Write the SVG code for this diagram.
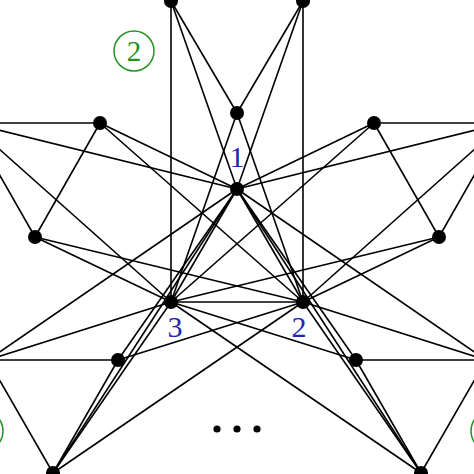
<svg xmlns="http://www.w3.org/2000/svg" width="474" height="474" viewBox="0 0 474 474">
<style>
.e{stroke:#000;stroke-width:1.6;fill:none}
.n{fill:#000}
.lb{font-family:"Liberation Serif","DejaVu Serif",serif;font-size:30px;fill:#2424b4;text-anchor:middle}
.gc{fill:none;stroke:#239423;stroke-width:1.5}
.gt{font-family:"Liberation Serif","DejaVu Serif",serif;font-size:29px;fill:#239423;text-anchor:middle}
.d{fill:#000}
</style>
<rect width="474" height="474" fill="#fff"/>
<g id="connectors" class="e">
<line x1="171" y1="1" x2="171" y2="302"/>
<line x1="171" y1="1" x2="237" y2="113"/>
<line x1="171" y1="1" x2="237" y2="189"/>
<line x1="237" y1="113" x2="171" y2="302"/>
<line x1="100" y1="123" x2="237" y2="189"/>
<line x1="100" y1="123" x2="35" y2="237"/>
<line x1="100" y1="123" x2="303" y2="302"/>
<line x1="100" y1="123" x2="-30" y2="123"/>
<line x1="-30" y1="123" x2="237" y2="189"/>
<line x1="-30" y1="123" x2="171" y2="302"/>
<line x1="-30" y1="123" x2="35" y2="237"/>
<line x1="35" y1="237" x2="171" y2="302"/>
<line x1="35" y1="237" x2="303" y2="302"/>
<line x1="171" y1="302" x2="303" y2="302"/>
<line x1="237" y1="189" x2="171" y2="302"/>
<line x1="-12" y1="360" x2="171" y2="302"/>
<line x1="-12" y1="360" x2="237" y2="189"/>
<line x1="-12" y1="360" x2="118" y2="360"/>
<line x1="-12" y1="360" x2="53" y2="473"/>
<line x1="118" y1="360" x2="237" y2="189"/>
<line x1="118" y1="360" x2="303" y2="302"/>
<line x1="118" y1="360" x2="53" y2="473"/>
<line x1="53" y1="473" x2="237" y2="189"/>
<line x1="53" y1="473" x2="171" y2="302"/>
<line x1="53" y1="473" x2="303" y2="302"/>
<line x1="303" y1="1" x2="303" y2="302"/>
<line x1="303" y1="1" x2="237" y2="113"/>
<line x1="303" y1="1" x2="237" y2="189"/>
<line x1="237" y1="113" x2="303" y2="302"/>
<line x1="374" y1="123" x2="237" y2="189"/>
<line x1="374" y1="123" x2="439" y2="237"/>
<line x1="374" y1="123" x2="171" y2="302"/>
<line x1="374" y1="123" x2="504" y2="123"/>
<line x1="504" y1="123" x2="237" y2="189"/>
<line x1="504" y1="123" x2="303" y2="302"/>
<line x1="504" y1="123" x2="439" y2="237"/>
<line x1="439" y1="237" x2="303" y2="302"/>
<line x1="439" y1="237" x2="171" y2="302"/>
<line x1="237" y1="189" x2="303" y2="302"/>
<line x1="486" y1="360" x2="303" y2="302"/>
<line x1="486" y1="360" x2="237" y2="189"/>
<line x1="486" y1="360" x2="356" y2="360"/>
<line x1="486" y1="360" x2="421" y2="473"/>
<line x1="356" y1="360" x2="237" y2="189"/>
<line x1="356" y1="360" x2="171" y2="302"/>
<line x1="356" y1="360" x2="421" y2="473"/>
<line x1="421" y1="473" x2="237" y2="189"/>
<line x1="421" y1="473" x2="303" y2="302"/>
<line x1="421" y1="473" x2="171" y2="302"/>
</g>
<g id="nA"><circle class="n" cx="171" cy="1" r="7"/></g>
<g id="nB"><circle class="n" cx="303" cy="1" r="7"/></g>
<g id="nC"><circle class="n" cx="237" cy="113" r="7"/></g>
<g id="n1"><circle class="n" cx="237" cy="189" r="7"/><text class="lb" x="237" y="167">1</text></g>
<g id="nE"><circle class="n" cx="100" cy="123" r="7"/></g>
<g id="nF"><circle class="n" cx="374" cy="123" r="7"/></g>
<g id="nG"><circle class="n" cx="35" cy="237" r="7"/></g>
<g id="nH"><circle class="n" cx="439" cy="237" r="7"/></g>
<g id="n3"><circle class="n" cx="171" cy="302" r="7"/><text class="lb" x="175" y="337">3</text></g>
<g id="n2"><circle class="n" cx="303" cy="302" r="7"/><text class="lb" x="299" y="337">2</text></g>
<g id="nK"><circle class="n" cx="118" cy="360" r="7"/></g>
<g id="nL"><circle class="n" cx="356" cy="360" r="7"/></g>
<g id="nM"><circle class="n" cx="53" cy="473" r="7"/></g>
<g id="nN"><circle class="n" cx="421" cy="473" r="7"/></g>
<g id="region2"><circle class="gc" cx="134" cy="51" r="20"/><text class="gt" x="134" y="61">2</text></g>
<g id="regionL"><circle class="gc" cx="-17" cy="431" r="20"/></g>
<g id="regionR"><circle class="gc" cx="491" cy="431" r="20"/></g>
<g id="ellipsis"><circle class="d" cx="217" cy="429" r="3.6"/><circle class="d" cx="237" cy="429" r="3.6"/><circle class="d" cx="257" cy="429" r="3.6"/></g>
</svg>
